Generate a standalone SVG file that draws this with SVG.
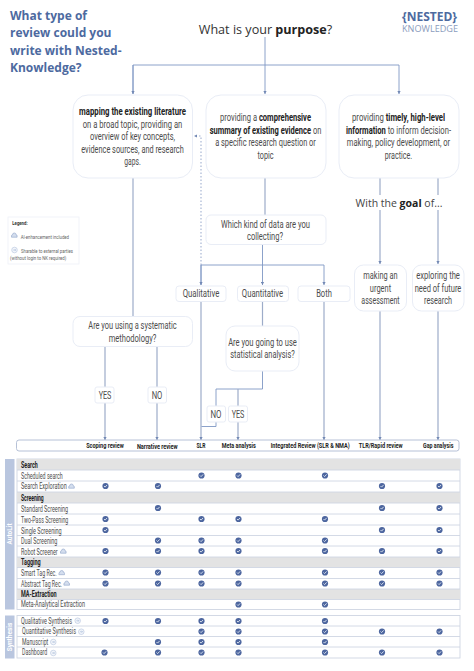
<svg xmlns="http://www.w3.org/2000/svg" width="474" height="671" viewBox="0 0 474 671">
<style>
text{font-family:Roboto,"Liberation Sans",sans-serif;fill:#4c4c4c}
.o{font-family:"Open Sans",sans-serif}
.m{text-anchor:middle}
.b{font-weight:700;fill:#222}
.n{font-size:10px}
.q{font-size:11px}
.h{font-size:8px;font-weight:700;fill:#222;text-anchor:middle}
.t{font-size:8.400px}
.th{font-size:8.400px;font-weight:700;fill:#222}
.box{fill:#fff;stroke:#e9edf6;stroke-width:1}
.l{fill:none;stroke:#7f97c4;stroke-width:.9}
.g{fill:none;stroke:#9dacc9;stroke-width:1.200}
.d{fill:none;stroke:#9fb0d0;stroke-width:1.100;stroke-dasharray:1.500 2}
.sec{fill:#e3e3e3}
.sep{stroke:#cfd6e3;stroke-width:.9}
.frame{fill:#fff;stroke:#cfd6e3;stroke-width:.9}
.tab{fill:#b9c6df}
.tabt{font-size:6.500px;font-weight:700;fill:#fff;text-anchor:middle}
.lg{font-size:5px;fill:#666}
</style>
<defs>
<marker id="a" markerWidth="4" markerHeight="4" refX="3" refY="2" orient="auto" markerUnits="userSpaceOnUse"><path d="M0 .4L3 2L0 3.600z" fill="#7288b4"/></marker>
<symbol id="c" viewBox="-3.500 -3.500 7 7" overflow="visible"><circle r="3.100" fill="#4d669f"/><path d="M-1.500 0L-.4 1.100L1.600-1.100" fill="none" stroke="#dfe6f2" stroke-width=".9"/></symbol>
<symbol id="ai" viewBox="-3.500 -3.500 7 7" overflow="visible"><path d="M-2.800 2.200V.8A1 1 0 0 1-1.800-.2A1.800 1.800 0 0 1 1.800-.2A1 1 0 0 1 2.800.8V2.200z" fill="#d4deee" stroke="#8ea3c8" stroke-width=".6"/></symbol>
<symbol id="sh" viewBox="-3.500 -3.500 7 7" overflow="visible"><circle r="2.800" fill="#f2f5fa" stroke="#b4c3dd" stroke-width=".6"/><path d="M-1.300 0H1.200M.2-1L1.200 0L.2 1" fill="none" stroke="#9bb0d2" stroke-width=".5"/></symbol>
</defs>
<rect width="474" height="671" fill="#fff"/>

<g id="title"><text class="o" x="10" y="20" font-size="12" font-weight="700" style="fill:#4d6a9f">What type of</text><text class="o" x="10" y="37" font-size="12" font-weight="700" style="fill:#4d6a9f">review could you</text><text class="o" x="10" y="54.500" font-size="12" font-weight="700" style="fill:#4d6a9f">write with Nested-</text><text class="o" x="10" y="71.500" font-size="12" font-weight="700" style="fill:#4d6a9f">Knowledge?</text></g>
<g id="logo"><text class="o" x="402" y="20.500" font-size="12" font-weight="700" style="fill:#4d6a9f">{NESTED}</text><text class="o" x="402" y="31.500" font-size="9.100" style="fill:#8b9cbd">KNOWLEDGE</text></g>

<g id="connectors">
<path class="l" d="M265 37V94" marker-end="url(#a)"/>
<path class="l" d="M133 94V65H399V94" marker-end="url(#a)"/>
<path class="l" d="M133 65V94" marker-end="url(#a)"/>
<path class="g" d="M133 178V316"/>
<path class="g" d="M265 178V215"/>
<path class="g" d="M380 178V195M438 178V195"/>
<path class="g" d="M380 210V264" marker-end="url(#a)"/>
<path class="g" d="M438 210V264" marker-end="url(#a)"/>
<path class="d" d="M201 265V136H194" marker-end="url(#a)"/>
<path class="l" d="M262.500 244V285" marker-end="url(#a)"/>
<path class="l" d="M201 285V265H324V285" marker-end="url(#a)"/>
<path class="l" d="M201 265V285" marker-end="url(#a)"/>
<path class="g" d="M201 301V440" marker-end="url(#a)"/>
<path class="g" d="M324 301V440" marker-end="url(#a)"/>
<path class="g" d="M262.500 301V326"/>
<path class="l" d="M262.500 371V389H216V406"/>
<path class="g" d="M238 389V440" marker-end="url(#a)"/>
<path class="l" d="M216 422V426.500H201.500"/>
<path class="g" d="M105 346V440" marker-end="url(#a)"/>
<path class="g" d="M157 346V440" marker-end="url(#a)"/>
<path class="g" d="M380 311V440" marker-end="url(#a)"/>
<path class="g" d="M438 311V440" marker-end="url(#a)"/>
</g>

<g id="purpose"><text class="o m" x="265.500" y="33.500" font-size="12.600" style="fill:#333">What is your <tspan font-weight="700" style="fill:#222">purpose</tspan>?</text></g>
<g id="goal"><rect x="350" y="196" width="98" height="14" fill="#fff"/><text class="o m" x="399" y="207" font-size="10.500" style="fill:#444">With the <tspan font-weight="700" style="fill:#222">goal</tspan> of...</text></g>

<g id="mapping"><rect class="box" x="73" y="95" width="119.500" height="83" rx="15"/><text class="m n b" x="132.500" y="115" textLength="107" lengthAdjust="spacingAndGlyphs">mapping the existing literature</text><text class="m n" x="132.500" y="127.500" textLength="99.500" lengthAdjust="spacingAndGlyphs">on a broad topic, providing an</text><text class="m n" x="132.500" y="140" textLength="85" lengthAdjust="spacingAndGlyphs">overview of key concepts,</text><text class="m n" x="132.500" y="152.500" textLength="102.500" lengthAdjust="spacingAndGlyphs">evidence sources, and research</text><text class="m n" x="132.500" y="165" textLength="16.500" lengthAdjust="spacingAndGlyphs">gaps.</text></g>
<g id="summary"><rect class="box" x="206" y="95" width="120" height="83" rx="15"/><text class="m n" x="265.500" y="121" textLength="91" lengthAdjust="spacingAndGlyphs">providing a <tspan class="b">comprehensive</tspan></text><text class="m n" x="265.500" y="133.500" textLength="111.700" lengthAdjust="spacingAndGlyphs"><tspan class="b">summary of existing evidence</tspan> on</text><text class="m n" x="265.500" y="146" textLength="100.700" lengthAdjust="spacingAndGlyphs">a specific research question or</text><text class="m n" x="265.500" y="158.500" textLength="16" lengthAdjust="spacingAndGlyphs">topic</text></g>
<g id="timely"><rect class="box" x="339" y="95" width="120" height="83" rx="15"/><text class="m n" x="398.500" y="121" textLength="93" lengthAdjust="spacingAndGlyphs">providing <tspan class="b">timely, high-level</tspan></text><text class="m n" x="398.500" y="133.500" textLength="105" lengthAdjust="spacingAndGlyphs"><tspan class="b">information</tspan> to inform decision-</text><text class="m n" x="398.500" y="146" textLength="103.300" lengthAdjust="spacingAndGlyphs">making, policy development, or</text><text class="m n" x="398.500" y="158.500" textLength="27.300" lengthAdjust="spacingAndGlyphs">practice.</text></g>
<g id="kind"><rect class="box" x="206" y="215" width="120" height="29.500" rx="5"/><text class="m q" x="265.500" y="227.500" textLength="89" lengthAdjust="spacingAndGlyphs">Which kind of data are you</text><text class="m q" x="265" y="240" textLength="36" lengthAdjust="spacingAndGlyphs">collecting?</text></g>
<g id="qualitative"><rect class="box" x="176" y="286" width="50" height="15.500" rx="3"/><text class="m q" x="201" y="297" textLength="36.700" lengthAdjust="spacingAndGlyphs">Qualitative</text></g>
<g id="quantitative"><rect class="box" x="237.500" y="286" width="51" height="15.500" rx="3"/><text class="m q" x="262.500" y="297" textLength="41.300" lengthAdjust="spacingAndGlyphs">Quantitative</text></g>
<g id="both"><rect class="box" x="298" y="286" width="52" height="15.500" rx="3"/><text class="m q" x="324" y="297" textLength="15.700" lengthAdjust="spacingAndGlyphs">Both</text></g>
<g id="systematic"><rect class="box" x="73" y="316.500" width="119.500" height="30" rx="7"/><text class="m q" x="132.500" y="329" textLength="88.300" lengthAdjust="spacingAndGlyphs">Are you using a systematic</text><text class="m q" x="132.500" y="341.500" textLength="47.700" lengthAdjust="spacingAndGlyphs">methodology?</text></g>
<g id="statistical"><rect class="box" x="226" y="326" width="73" height="45" rx="9"/><text class="m q" x="262.500" y="345.500" textLength="68.700" lengthAdjust="spacingAndGlyphs">Are you going to use</text><text class="m q" x="262.500" y="358" textLength="64.400" lengthAdjust="spacingAndGlyphs">statistical analysis?</text></g>
<g id="urgent"><rect class="box" x="354.500" y="265" width="52" height="46" rx="9"/><text class="m q" x="380.500" y="279" textLength="34.300" lengthAdjust="spacingAndGlyphs">making an</text><text class="m q" x="380.500" y="291.500" textLength="21.300" lengthAdjust="spacingAndGlyphs">urgent</text><text class="m q" x="380.500" y="304" textLength="38.300" lengthAdjust="spacingAndGlyphs">assessment</text></g>
<g id="future"><rect class="box" x="412.500" y="265" width="51.500" height="46" rx="9"/><text class="m q" x="438" y="279" textLength="43.700" lengthAdjust="spacingAndGlyphs">exploring the</text><text class="m q" x="438" y="291.500" textLength="46.700" lengthAdjust="spacingAndGlyphs">need of future</text><text class="m q" x="438" y="304" textLength="28" lengthAdjust="spacingAndGlyphs">research</text></g>
<g id="yes1"><rect class="box" x="95" y="387" width="19" height="16" rx="2"/><text class="m q" x="105" y="399" textLength="12.700" lengthAdjust="spacingAndGlyphs">YES</text></g>
<g id="no1"><rect class="box" x="148" y="387" width="18.500" height="16" rx="2"/><text class="m q" x="157" y="399" textLength="10.700" lengthAdjust="spacingAndGlyphs">NO</text></g>
<g id="no2"><rect class="box" x="207" y="406" width="18.500" height="16" rx="2"/><text class="m q" x="216" y="418" textLength="11" lengthAdjust="spacingAndGlyphs">NO</text></g>
<g id="yes2"><rect class="box" x="228.500" y="406" width="19" height="16" rx="2"/><text class="m q" x="238" y="418" textLength="12.700" lengthAdjust="spacingAndGlyphs">YES</text></g>

<g id="legend"><rect x="8" y="217" width="71" height="47" fill="#fff" stroke="#eef1f7" stroke-width=".8"/><text x="12.300" y="224.500" font-size="4.800" font-weight="700" style="fill:#333" textLength="15.300" lengthAdjust="spacingAndGlyphs">Legend:</text><use href="#ai" x="10.800" y="231.500" width="7" height="7"/><text class="lg" x="20.700" y="238.500" textLength="48.300" lengthAdjust="spacingAndGlyphs">AI-enhancement included</text><use href="#sh" x="11" y="246.500" width="7" height="7"/><text class="lg" x="21" y="252.500" textLength="52" lengthAdjust="spacingAndGlyphs">Sharable to external parties</text><text class="lg" x="10" y="259.500" textLength="56.300" lengthAdjust="spacingAndGlyphs">(without login to NK required)</text></g>

<g id="columns"><rect x="16.500" y="440" width="442.500" height="11" rx="2.500" fill="#fff" stroke="#aebad2" stroke-width=".9"/>
<text class="h" x="105" y="448" textLength="37.700" lengthAdjust="spacingAndGlyphs">Scoping review</text><text class="h" x="157.300" y="448.500" textLength="40.700" lengthAdjust="spacingAndGlyphs">Narrative review</text><text class="h" x="201" y="448" textLength="9" lengthAdjust="spacingAndGlyphs">SLR</text><text class="h" x="238.700" y="448" textLength="34" lengthAdjust="spacingAndGlyphs">Meta analysis</text><text class="h" x="310.200" y="448" textLength="79" lengthAdjust="spacingAndGlyphs">Integrated Review (SLR &amp; NMA)</text><text class="h" x="380.700" y="448" textLength="44" lengthAdjust="spacingAndGlyphs">TLR/Rapid review</text><text class="h" x="438.200" y="448" textLength="30.300" lengthAdjust="spacingAndGlyphs">Gap analysis</text></g>

<g id="autolit">
<rect class="tab" x="5" y="459" width="9.500" height="150.500"/><text class="tabt" transform="translate(11.500 534) rotate(-90)">AutoLit</text>
<rect class="frame" x="17" y="459" width="443" height="150.500"/>
<rect class="sec" x="17" y="459" width="443" height="11"/><rect class="sec" x="17" y="492" width="443" height="11"/><rect class="sec" x="17" y="557" width="443" height="10.500"/><rect class="sec" x="17" y="589" width="443" height="10.500"/>
<path class="sep" d="M17 470H460M17 481H460M17 492H460M17 503H460M17 514H460M17 525H460M17 535.500H460M17 546H460M17 557H460M17 567.500H460M17 578.500H460M17 589H460M17 599.500H460"/>
<text class="th" x="21" y="467.500" textLength="16.700" lengthAdjust="spacingAndGlyphs">Search</text><text class="t" x="21" y="478.500" textLength="41.700" lengthAdjust="spacingAndGlyphs">Scheduled search</text><text class="t" x="21" y="489" textLength="45.700" lengthAdjust="spacingAndGlyphs">Search Exploration</text><text class="th" x="21" y="500.500" textLength="22.700" lengthAdjust="spacingAndGlyphs">Screening</text><text class="t" x="21" y="511.500" textLength="47" lengthAdjust="spacingAndGlyphs">Standard Screening</text><text class="t" x="21" y="522.500" textLength="47.300" lengthAdjust="spacingAndGlyphs">Two-Pass Screening</text><text class="t" x="21" y="533.500" textLength="40.700" lengthAdjust="spacingAndGlyphs">Single Screening</text><text class="t" x="21" y="544" textLength="36.300" lengthAdjust="spacingAndGlyphs">Dual Screening</text><text class="t" x="21" y="554.500" textLength="36.700" lengthAdjust="spacingAndGlyphs">Robot Screener</text><text class="th" x="21" y="565" textLength="19.700" lengthAdjust="spacingAndGlyphs">Tagging</text><text class="t" x="21" y="575.500" textLength="35.700" lengthAdjust="spacingAndGlyphs">Smart Tag Rec.</text><text class="t" x="21" y="586.500" textLength="41" lengthAdjust="spacingAndGlyphs">Abstract Tag Rec.</text><text class="th" x="21" y="597" textLength="35.700" lengthAdjust="spacingAndGlyphs">MA-Extraction</text><text class="t" x="21" y="606.500" textLength="64" lengthAdjust="spacingAndGlyphs">Meta-Analytical Extraction</text>
<use href="#ai" x="68" y="482.500" width="7" height="7"/><use href="#ai" x="59.800" y="547.500" width="7" height="7"/><use href="#ai" x="58.200" y="569" width="7" height="7"/><use href="#ai" x="63.200" y="579.500" width="7" height="7"/>
</g>
<g id="synthesis">
<rect class="tab" x="5" y="615.500" width="9.500" height="43"/><text class="tabt" transform="translate(11.500 637) rotate(-90)">Synthesis</text>
<rect class="frame" x="17" y="615.500" width="443" height="42.500"/>
<path class="sep" d="M17 626H460M17 636.500H460M17 647H460"/>
<text class="t" x="21" y="623.500" textLength="51" lengthAdjust="spacingAndGlyphs">Qualitative Synthesis</text><text class="t" x="22" y="634" textLength="54" lengthAdjust="spacingAndGlyphs">Quantitative Synthesis</text><text class="t" x="22" y="644.500" textLength="26.300" lengthAdjust="spacingAndGlyphs">Manuscript</text><text class="t" x="22" y="655" textLength="25.300" lengthAdjust="spacingAndGlyphs">Dashboard</text>
<use href="#sh" x="74.200" y="617.200" width="7" height="7"/><use href="#sh" x="77.800" y="628.200" width="7" height="7"/><use href="#sh" x="49.800" y="638.500" width="7" height="7"/><use href="#sh" x="49.800" y="649.500" width="7" height="7"/>
</g>
<g id="checks">
<use href="#c" x="198" y="472" width="7" height="7"/><use href="#c" x="235" y="472" width="7" height="7"/><use href="#c" x="321.500" y="472" width="7" height="7"/>
<use href="#c" x="102" y="482.500" width="7" height="7"/><use href="#c" x="154.500" y="482.500" width="7" height="7"/><use href="#c" x="378.500" y="482.500" width="7" height="7"/><use href="#c" x="436" y="482.500" width="7" height="7"/>
<use href="#c" x="154.500" y="504.500" width="7" height="7"/><use href="#c" x="378.500" y="504.500" width="7" height="7"/><use href="#c" x="436" y="504.500" width="7" height="7"/>
<use href="#c" x="102" y="515.500" width="7" height="7"/><use href="#c" x="198" y="515.500" width="7" height="7"/><use href="#c" x="235" y="515.500" width="7" height="7"/><use href="#c" x="321.500" y="515.500" width="7" height="7"/>
<use href="#c" x="102" y="526.500" width="7" height="7"/><use href="#c" x="378.500" y="526.500" width="7" height="7"/><use href="#c" x="436" y="526.500" width="7" height="7"/>
<use href="#c" x="154.500" y="537" width="7" height="7"/><use href="#c" x="198" y="537" width="7" height="7"/><use href="#c" x="235" y="537" width="7" height="7"/><use href="#c" x="321.500" y="537" width="7" height="7"/>
<use href="#c" x="102" y="547.500" width="7" height="7"/><use href="#c" x="154.500" y="547.500" width="7" height="7"/><use href="#c" x="198" y="547.500" width="7" height="7"/><use href="#c" x="235" y="547.500" width="7" height="7"/><use href="#c" x="321.500" y="547.500" width="7" height="7"/><use href="#c" x="378.500" y="547.500" width="7" height="7"/><use href="#c" x="436" y="547.500" width="7" height="7"/>
<use href="#c" x="102" y="569" width="7" height="7"/><use href="#c" x="154.500" y="569" width="7" height="7"/><use href="#c" x="198" y="569" width="7" height="7"/><use href="#c" x="235" y="569" width="7" height="7"/><use href="#c" x="321.500" y="569" width="7" height="7"/><use href="#c" x="378.500" y="569" width="7" height="7"/><use href="#c" x="436" y="569" width="7" height="7"/>
<use href="#c" x="102" y="580" width="7" height="7"/><use href="#c" x="154.500" y="580" width="7" height="7"/><use href="#c" x="198" y="580" width="7" height="7"/><use href="#c" x="235" y="580" width="7" height="7"/><use href="#c" x="321.500" y="580" width="7" height="7"/><use href="#c" x="378.500" y="580" width="7" height="7"/><use href="#c" x="436" y="580" width="7" height="7"/>
<use href="#c" x="235" y="601" width="7" height="7"/><use href="#c" x="321.500" y="601" width="7" height="7"/>
<use href="#c" x="102" y="617.500" width="7" height="7"/><use href="#c" x="154.500" y="617.500" width="7" height="7"/><use href="#c" x="198" y="617.500" width="7" height="7"/><use href="#c" x="235" y="617.500" width="7" height="7"/><use href="#c" x="321.500" y="617.500" width="7" height="7"/>
<use href="#c" x="198" y="628" width="7" height="7"/><use href="#c" x="235" y="628" width="7" height="7"/><use href="#c" x="321.500" y="628" width="7" height="7"/><use href="#c" x="378.500" y="628" width="7" height="7"/><use href="#c" x="436" y="628" width="7" height="7"/>
<use href="#c" x="154.500" y="638.500" width="7" height="7"/><use href="#c" x="198" y="638.500" width="7" height="7"/><use href="#c" x="235" y="638.500" width="7" height="7"/><use href="#c" x="321.500" y="638.500" width="7" height="7"/>
<use href="#c" x="101" y="649" width="7" height="7"/><use href="#c" x="154.500" y="649" width="7" height="7"/><use href="#c" x="198" y="649" width="7" height="7"/><use href="#c" x="235" y="649" width="7" height="7"/><use href="#c" x="321.500" y="649" width="7" height="7"/><use href="#c" x="378.500" y="649" width="7" height="7"/><use href="#c" x="436" y="649" width="7" height="7"/>
</g>
</svg>
